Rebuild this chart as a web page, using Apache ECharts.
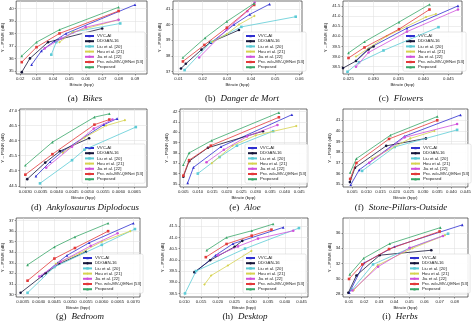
<!DOCTYPE html>
<html>
<head>
<meta charset="utf-8">
<script src="https://cdn.jsdelivr.net/npm/echarts@6/dist/echarts.min.js"></script>
<style>
  html, body { margin: 0; padding: 0; background: #fff; }
  #chart { width: 474px; height: 329px; }
</style>
</head>
<body>
<div id="chart"></div>
<script>
// Method names, in legend order
const methods = ['VVC-AI', 'DDGAN-16', 'Liu et al. [20]', 'Hou et al. [21]', 'Jia et al. [22]', 'Pro. w/o-MV-QENet [53]', 'Proposed'];

// Rate-distortion points per scene: [bitrate (bpp), Y-PSNR (dB)], one list per method
const bikes = [
  [[0.027,35.5],[0.033,36.6],[0.041,37.4],[0.048,38.0],[0.090,40.3]],
  [[0.021,34.9],[0.026,36.0],[0.037,37.3],[0.070,38.4]],
  [[0.039,36.3],[0.042,37.3],[0.052,38.1],[0.081,38.8]],
  [[0.044,37.3],[0.052,38.1],[0.080,39.1]],
  [[0.035,36.8],[0.045,37.6],[0.060,38.5],[0.080,39.1]],
  [[0.021,35.7],[0.030,36.9],[0.044,38.0],[0.080,39.8]],
  [[0.021,36.2],[0.030,37.3],[0.044,38.3],[0.080,40.1]]
];
const dangerDeMort = [
  [[0.0235,38.85],[0.033,40.0],[0.0395,40.65],[0.0477,41.3]],
  [[0.011,37.2],[0.013,37.5],[0.0195,38.4],[0.023,38.85],[0.035,39.65]],
  [[0.0125,37.1],[0.0235,38.9],[0.036,39.85],[0.0585,40.5]],
  [[0.024,38.9],[0.030,39.4],[0.035,40.0],[0.0414,40.55]],
  [[0.0185,37.9],[0.030,39.7],[0.0385,40.85],[0.0415,41.4]],
  [[0.0118,37.65],[0.0207,38.7],[0.030,39.8],[0.0413,41.25]],
  [[0.0118,37.9],[0.021,39.15],[0.030,40.2],[0.0413,41.35]]
];
const flowers = [
  [[0.0265,38.8],[0.029,39.4],[0.0367,40.4],[0.0469,41.5]],
  [[0.0239,38.43],[0.0265,38.78],[0.029,39.35],[0.030,39.5]],
  [[0.0248,38.25],[0.0271,38.72],[0.032,39.3],[0.043,40.45]],
  [[0.0265,39.0],[0.0326,40.0],[0.0405,40.95],[0.0425,41.1]],
  [[0.0265,38.5],[0.029,39.2],[0.0367,40.23],[0.0469,41.32]],
  [[0.025,38.93],[0.0282,39.45],[0.0351,40.35],[0.0412,41.32]],
  [[0.025,39.18],[0.0282,39.73],[0.0351,40.7],[0.0412,41.57]]
];
const ankylosaurus = [
  [[0.00334,44.82],[0.0038,45.3],[0.0042,45.65],[0.00552,46.53],[0.00595,46.73]],
  [[0.00306,44.72],[0.00364,45.27],[0.00411,45.65],[0.00505,46.08]],
  [[0.00347,44.58],[0.0045,45.35],[0.0049,45.7],[0.00655,46.45]],
  [[0.0042,45.6],[0.0049,46.1],[0.0056,46.5],[0.0062,46.68]],
  [[0.00367,45.1],[0.0045,45.8],[0.0052,46.4],[0.0058,46.7]],
  [[0.0030,44.87],[0.00387,45.55],[0.00522,46.53],[0.0057,46.7]],
  [[0.0030,45.18],[0.00387,45.95],[0.00522,46.78],[0.0057,46.89]]
];
const aloe = [
  [[0.0065,35.1],[0.0085,36.6],[0.018,38.6],[0.0425,41.7]],
  [[0.005,35.7],[0.007,37.2],[0.0135,38.5],[0.0325,40.1]],
  [[0.010,36.0],[0.0175,37.6],[0.0235,38.7],[0.036,40.1]],
  [[0.0148,37.0],[0.022,38.7],[0.030,39.7],[0.044,40.6]],
  [[0.013,37.1],[0.019,38.3],[0.027,39.6],[0.0375,40.7]],
  [[0.005,35.8],[0.007,37.3],[0.0145,38.7],[0.038,41.45]],
  [[0.005,36.85],[0.007,38.0],[0.0148,39.2],[0.038,41.9]]
];
const stonePillars = [
  [[0.0045,34.95],[0.0075,36.35],[0.0235,39.5],[0.0432,41.5]],
  [[0.0042,35.2],[0.006,36.55],[0.017,38.6],[0.031,39.3]],
  [[0.0085,36.25],[0.020,38.5],[0.042,40.1]],
  [[0.012,37.4],[0.0255,39.3],[0.034,40.0]],
  [[0.011,37.0],[0.0235,39.4],[0.042,40.65]],
  [[0.0043,35.5],[0.0065,37.0],[0.018,39.25],[0.035,41.0]],
  [[0.0043,36.1],[0.0065,37.4],[0.0185,39.6],[0.035,41.35]]
];
const bedroom = [
  [[0.0041,31.75],[0.0046,33.0],[0.0049,33.7],[0.0056,34.9],[0.0070,36.75]],
  [[0.00343,30.15],[0.00422,32.0],[0.00465,32.9],[0.0055,34.05]],
  [[0.00365,30.15],[0.0045,32.6],[0.0060,34.7],[0.00705,36.2]],
  [[0.00455,32.9],[0.0053,33.9],[0.0060,35.0],[0.0069,36.0]],
  [[0.00402,31.7],[0.0047,33.1],[0.00565,34.6],[0.0065,35.8]],
  [[0.00365,31.3],[0.0045,33.4],[0.00515,34.4],[0.0062,36.0]],
  [[0.00365,32.8],[0.0045,34.5],[0.00515,35.45],[0.0062,36.75]]
];
const desktop = [
  [[0.0132,39.45],[0.0193,40.2],[0.0245,40.72],[0.0395,41.45]],
  [[0.013,39.45],[0.0177,39.98],[0.025,40.58],[0.0273,40.85]],
  [[0.0102,38.5],[0.0135,39.5],[0.0281,40.5],[0.0442,41.42]],
  [[0.016,38.9],[0.018,39.3],[0.023,39.75],[0.030,40.4]],
  [[0.020,40.2],[0.026,40.6],[0.032,40.95],[0.0425,41.3]],
  [[0.0164,40.12],[0.0226,40.71],[0.0301,41.08],[0.036,41.35]],
  [[0.0167,40.43],[0.0226,41.0],[0.0301,41.3],[0.0365,41.6]]
];
const herbs = [
  [[0.0102,28.2],[0.020,32.1],[0.040,34.2],[0.085,37.05]],
  [[0.0095,28.2],[0.0149,30.46],[0.0303,33.1],[0.0645,33.75]],
  [[0.012,28.6],[0.0259,31.9],[0.050,34.0],[0.0756,35.9]],
  [[0.013,28.5],[0.029,31.8],[0.052,34.0],[0.0735,35.7]],
  [[0.0122,28.5],[0.0292,31.6],[0.0502,34.05],[0.0722,35.6]],
  [[0.010,30.0],[0.0188,31.9],[0.0365,33.9],[0.070,36.2]],
  [[0.0105,30.6],[0.0197,32.7],[0.0369,34.6],[0.0705,36.7]]
];

// Tick values per scene
const bikesXTicks = [0.02,0.03,0.04,0.05,0.06,0.07,0.08,0.09];
const bikesYTicks = [35,36,37,38,39,40];
const dangerXTicks = [0.01,0.02,0.03,0.04,0.05,0.06];
const dangerYTicks = [37,38,39,40,41];
const flowersXTicks = [0.025,0.030,0.035,0.040,0.045];
const flowersYTicks = [38.5,39.0,39.5,40.0,40.5,41.0,41.5];
const ankyloXTicks = [0.0030,0.0035,0.0040,0.0045,0.0050,0.0055,0.0060,0.0065];
const ankyloYTicks = [44.5,45.0,45.5,46.0,46.5,47.0];
const aloeXTicks = [0.005,0.010,0.015,0.020,0.025,0.030,0.035,0.040,0.045];
const aloeYTicks = [35,36,37,38,39,40,41,42];
const stoneXTicks = [0.005,0.010,0.015,0.020,0.025,0.030,0.035,0.040,0.045];
const stoneYTicks = [35,36,37,38,39,40,41];
const bedroomXTicks = [0.0035,0.0040,0.0045,0.0050,0.0055,0.0060,0.0065,0.0070];
const bedroomYTicks = [30,31,32,33,34,35,36,37];
const desktopXTicks = [0.010,0.015,0.020,0.025,0.030,0.035,0.040,0.045];
const desktopYTicks = [38.5,39.0,39.5,40.0,40.5,41.0,41.5];
const herbsXTicks = [0.01,0.02,0.03,0.04,0.05,0.06,0.07,0.08];
const herbsYTicks = [28,30,32,34,36];

// Panel captions
const captionLabels = ['(a)','(b)','(c)','(d)','(e)','(f)','(g)','(h)','(i)'];
const sceneNames = ['Bikes','Danger de Mort','Flowers','Ankylosaurus Diplodocus','Aloe','Stone-Pillars-Outside','Bedroom','Desktop','Herbs'];

// ---- presentation ----
const colors = ['#2f2fd0', '#15153a', '#5ccbd6', '#d6d24e', '#cf52dc', '#e23a3a', '#3aa76a'];
const symbols = ['triangle', 'circle', 'rect', 'diamond', 'circle', 'rect', 'triangle'];

const panels = [
  { data: bikes,        xt: bikesXTicks,   yt: bikesYTicks,   xr: [0.0176,0.0973],   yr: [34.75,40.6],  xd: 2, yd: 0, rect: [16,1,147,74],    cap: [80,96],   leg: [82,32] },
  { data: dangerDeMort, xt: dangerXTicks,  yt: dangerYTicks,  xr: [0.0077,0.0611],   yr: [36.85,41.5],  xd: 2, yd: 0, rect: [173,1,302,74],   cap: [237,96],  leg: [243,32] },
  { data: flowers,      xt: flowersXTicks, yt: flowersYTicks, xr: [0.0239,0.0477],   yr: [38.14,41.74], xd: 3, yd: 1, rect: [343,1,462,74],   cap: [396,96],  leg: [403,32] },
  { data: ankylosaurus, xt: ankyloXTicks,  yt: ankyloYTicks,  xr: [0.00282,0.00691], yr: [44.46,47.05], xd: 4, yd: 1, rect: [16,109,147,187], cap: [80,205],  leg: [82,144] },
  { data: aloe,         xt: aloeXTicks,    yt: aloeYTicks,    xr: [0.00385,0.0477],  yr: [34.7,42.25],  xd: 3, yd: 0, rect: [180,109,307,187],cap: [240,205], leg: [245,144] },
  { data: stonePillars, xt: stoneXTicks,   yt: stoneYTicks,   xr: [0.00177,0.0458],  yr: [34.74,42.06], xd: 3, yd: 0, rect: [343,109,470,187],cap: [396,205], leg: [408,144] },
  { data: bedroom,      xt: bedroomXTicks, yt: bedroomYTicks, xr: [0.00329,0.00721], yr: [29.75,37.25], xd: 4, yd: 0, rect: [15,218,140,297], cap: [75,314],  leg: [80,254] },
  { data: desktop,      xt: desktopXTicks, yt: desktopYTicks, xr: [0.0087,0.0469],   yr: [38.34,41.87], xd: 3, yd: 1, rect: [180,218,308,297],cap: [240,314], leg: [243,254] },
  { data: herbs,        xt: herbsXTicks,   yt: herbsYTicks,   xr: [0.006,0.0888],    yr: [27.65,37.95], xd: 2, yd: 0, rect: [343,218,468,297],cap: [395,314], leg: [407,254] }
];

const W = 474, H = 329;
const tickFont = { fontSize: 4.3, color: '#222', fontFamily: 'Liberation Sans' };
const nameFont = { fontSize: 4.4, color: '#222', fontFamily: 'Liberation Sans' };

const grid = [], xAxis = [], yAxis = [], series = [], legend = [], title = [];

panels.forEach((p, gi) => {
  const [l, t, r, b] = p.rect;
  grid.push({ left: l, top: t, width: r - l, height: b - t, show: true,
              borderColor: '#333', borderWidth: 0.7, backgroundColor: 'transparent' });
  xAxis.push({
    type: 'value', gridIndex: gi, min: p.xr[0], max: p.xr[1],
    name: 'Bitrate (bpp)', nameLocation: 'middle', nameGap: 9,
    nameTextStyle: nameFont,
    axisLine: { show: false },
    axisTick: { show: true, length: 1.5, customValues: p.xt, lineStyle: { color: '#333', width: 0.5 } },
    axisLabel: { customValues: p.xt, margin: 2.5, ...tickFont, hideOverlap: false, formatter: v => v.toFixed(p.xd) },
    splitLine: { show: true, lineStyle: { color: '#dcdcdc', width: 0.5 } }
  });
  yAxis.push({
    type: 'value', gridIndex: gi, min: p.yr[0], max: p.yr[1],
    name: 'Y \u2013 PSNR (dB)', nameLocation: 'middle', nameGap: p.yd ? 11 : 8, nameRotate: 90,
    nameTextStyle: nameFont,
    axisLine: { show: false },
    axisTick: { show: true, length: 1.5, customValues: p.yt, lineStyle: { color: '#333', width: 0.5 } },
    axisLabel: { customValues: p.yt, margin: 2.5, ...tickFont, formatter: v => v.toFixed(p.yd) },
    splitLine: { show: true, lineStyle: { color: '#dcdcdc', width: 0.5 } }
  });
  p.data.forEach((pts, si) => {
    series.push({
      name: methods[si], type: 'line', xAxisIndex: gi, yAxisIndex: gi,
      data: pts, symbol: symbols[si], symbolSize: 2.6, showSymbol: true,
      lineStyle: { width: 0.8, color: colors[si] },
      itemStyle: { color: colors[si] },
      z: 2 + si, animation: false
    });
  });
  legend.push({
    left: p.leg[0], top: p.leg[1], orient: 'vertical',
    data: methods, itemWidth: 9, itemHeight: 3, itemGap: 1.2,
    padding: [2, 2], backgroundColor: 'rgba(255,255,255,0.9)',
    borderColor: '#cfcfcf', borderWidth: 0.5, borderRadius: 1.5,
    textStyle: { fontSize: 4.3, color: '#222', fontFamily: 'Liberation Sans', padding: [0, 0, 0, -2] },
    selectedMode: false
  });
  title.push({
    text: '{n|' + captionLabels[gi] + '} {s|' + sceneNames[gi] + '}',
    left: p.cap[0], top: p.cap[1] - 11, textAlign: 'center',
    textStyle: { fontWeight: 'normal', rich: {
      n: { fontFamily: 'Liberation Serif', fontWeight: 'normal', fontSize: 9, color: '#111' },
      s: { fontFamily: 'Liberation Serif', fontWeight: 'normal', fontStyle: 'italic', fontSize: 9, color: '#111' }
    } }
  });
});

const chart = echarts.init(document.getElementById('chart'), null, { renderer: 'canvas', width: W, height: H });
chart.setOption({ animation: false, title, grid, xAxis, yAxis, legend, series });
</script>
</body>
</html>
